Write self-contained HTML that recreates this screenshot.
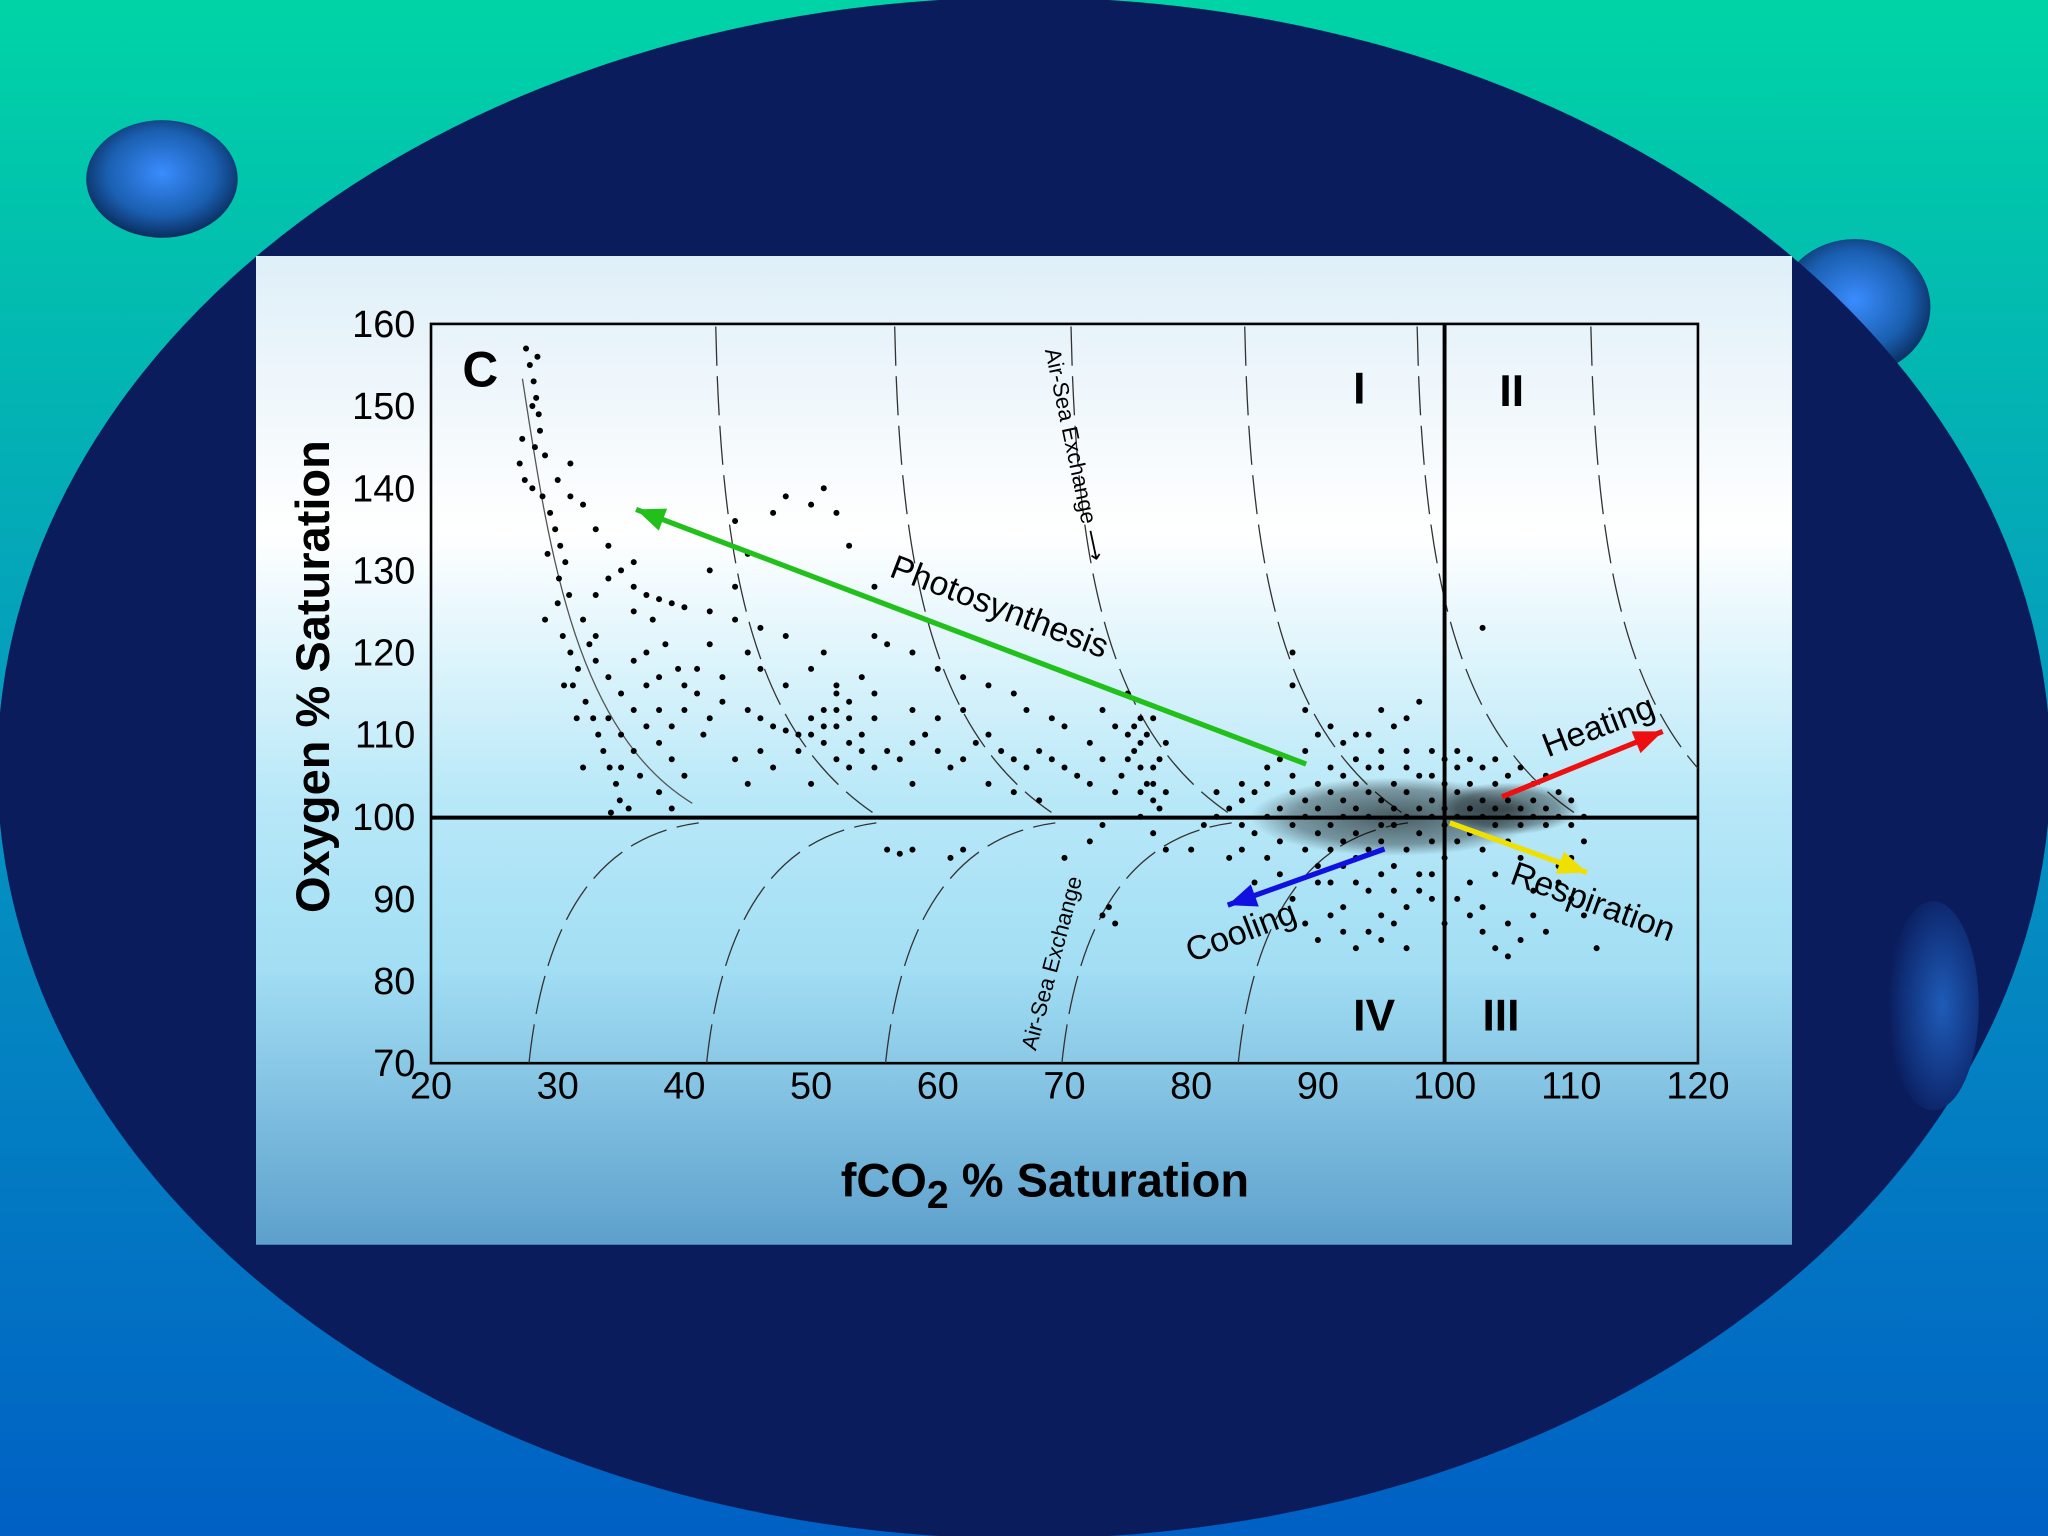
<!DOCTYPE html>
<html><head><meta charset="utf-8">
<style>
html,body{margin:0;padding:0;width:2048px;height:1536px;overflow:hidden;}
svg{display:block;font-family:"Liberation Sans",Arial,sans-serif;}
</style></head>
<body>
<svg id="chart" width="2048" height="1536" viewBox="0 0 1568 1176" xmlns="http://www.w3.org/2000/svg">
<defs>
<linearGradient id="bg" x1="0" y1="0" x2="0" y2="1">
<stop offset="0" stop-color="#00d4a6"/><stop offset="0.5" stop-color="#0596c0"/><stop offset="1" stop-color="#0060c4"/></linearGradient>
<radialGradient id="bub" cx="0.5" cy="0.45" r="0.6">
<stop offset="0" stop-color="#3a8cff"/><stop offset="0.6" stop-color="#1a5fb0"/><stop offset="1" stop-color="#06204a"/></radialGradient>
<radialGradient id="bub2" cx="0.6" cy="0.5" r="0.6">
<stop offset="0" stop-color="#1f5cb8"/><stop offset="0.7" stop-color="#10307a"/><stop offset="1" stop-color="#0a1c5c"/></radialGradient>
<linearGradient id="panel" x1="0" y1="0" x2="0" y2="1">
<stop offset="0" stop-color="#dfeff8"/><stop offset="0.28" stop-color="#ffffff"/><stop offset="0.55" stop-color="#b8e8f8"/><stop offset="0.72" stop-color="#a2def4"/><stop offset="1" stop-color="#5da0cc"/></linearGradient>
<clipPath id="plotclip"><rect x="330" y="248" width="970" height="566"/></clipPath>
<radialGradient id="blobg" cx="0.5" cy="0.5" r="0.5">
<stop offset="0" stop-color="#000" stop-opacity="0.6"/><stop offset="0.7" stop-color="#000" stop-opacity="0.35"/><stop offset="1" stop-color="#000" stop-opacity="0"/></radialGradient>
</defs>
<rect x="0" y="0" width="1568" height="1176" fill="url(#bg)"/>
<ellipse cx="124" cy="137" rx="58" ry="45" fill="url(#bub)"/>
<ellipse cx="1420" cy="235" rx="58" ry="52" fill="url(#bub)"/>
<ellipse cx="784" cy="588" rx="786" ry="590" fill="#0a1c5c"/>
<ellipse cx="1480" cy="770" rx="35" ry="80" fill="url(#bub2)"/>
<rect x="196" y="196" width="1176" height="757" fill="url(#panel)"/>
<rect x="330" y="248" width="970" height="566" fill="none" stroke="#000" stroke-width="2"/>
<g id="curves" fill="none" stroke="#333" stroke-width="1" stroke-dasharray="30,8" clip-path="url(#plotclip)"></g>
<g id="blob"></g>
<g id="pts" fill="#000"></g>
<g id="axes" font-size="29" fill="#000"></g>
<line x1="1106" y1="248" x2="1106" y2="814" stroke="#000" stroke-width="3"/>
<line x1="330" y1="626" x2="1300" y2="626" stroke="#000" stroke-width="3"/>
<g id="arrows"></g>
<text x="354" y="296" font-size="38" font-weight="bold">C</text>
<text x="1036" y="309" font-size="34" font-weight="bold">I</text>
<text x="1148" y="311" font-size="34" font-weight="bold">II</text>
<text x="1036" y="789" font-size="34" font-weight="bold">IV</text>
<text x="1135" y="789" font-size="34" font-weight="bold">III</text>
<text x="680" y="441" font-size="26" transform="rotate(21 680 441)">Photosynthesis</text>
<text x="1185" y="580" font-size="26" transform="rotate(-21 1185 580)">Heating</text>
<text x="1155" y="676" font-size="26" transform="rotate(20 1155 676)">Respiration</text>
<text x="912" y="737" font-size="26" transform="rotate(-21 912 737)">Cooling</text>
<text x="800" y="268" font-size="17" transform="rotate(78 800 268)">Air-Sea Exchange ⟶</text>
<text x="793" y="805" font-size="17" transform="rotate(-75 793 805)">Air-Sea Exchange</text>
<text x="252" y="518" font-size="36" font-weight="bold" text-anchor="middle" transform="rotate(-90 252 518)">Oxygen % Saturation</text>
<text x="800" y="916" font-size="36" font-weight="bold" text-anchor="middle">fCO<tspan font-size="30" dy="9">2</tspan><tspan dy="-9"> % Saturation</tspan></text>
</svg>
<script>
const xTicks=[20,30,40,50,60,70,80,90,100,110,120];
const yTicks=[70,80,90,100,110,120,130,140,150,160];
const leftStreak=[[27.5,157],[27.8,155],[28.1,153],[28.3,151],[28.5,149],[28.6,147],[28.2,145],[27,143],[27.4,141],[28,140],[28.8,139],[29.4,137],[29.8,135],[30.2,133],[30.6,131],[30.1,129],[30.9,127],[29,124],[30.4,122],[31,120],[31.6,118],[31.2,116],[32.2,114],[32.8,112],[33.2,110],[33.6,108],[34.1,106],[34.6,104],[34.9,102],[34.2,100.5],[35.6,101],[32.5,121],[33,119],[34,117],[35,115],[36,113],[37,111],[38,109],[39,107],[40,105],[36,125],[37,127],[38,126.5],[39,126],[40,125.5],[42,125],[44,124],[46,123],[48,122],[35,130],[36,128],[37.5,124],[38.5,121],[39.5,118],[41,115],[40,113],[42,112],[43,114],[41.5,110],[38,103],[39,101],[36.5,105],[31,143],[32,138],[33,135],[34,133],[36,131],[37,120],[38,117],[35,110],[36,108],[42,130],[44,128],[45,120],[46,118],[43,117],[33,127],[34,129],[31.5,112],[30.5,116],[32,106],[29,144],[30,141],[31,139],[32,124],[33,122],[34,112],[35,106],[36,119],[37,116],[38,113],[39,111],[40,116],[41,118],[42,121],[28,150],[28.4,156],[27.2,146],[29.2,132],[30,126]];
const midBand=[[45,113],[46,112],[47,111],[48,110.5],[49,110],[50,112],[51,113],[52,111],[53,109],[54,110],[55,112],[56,108],[57,107],[58,109],[59,110],[60,108],[61,106],[62,107],[63,109],[64,110],[65,108],[66,107],[67,106],[68,108],[69,107],[70,106],[71,105],[72,104],[73,107],[74,103],[75,110],[75.5,108],[76,106],[76.5,104],[77,102],[77.5,107],[76,112],[75,115],[76,100],[77,98],[78,96],[73,99],[72,97],[70,95],[56,96],[57,95.5],[58,96],[61,95],[62,96],[50,118],[51,120],[52,116],[53,114],[54,117],[55,115],[48,116],[47,106],[46,108],[45,104],[44,107],[50,104],[52,107],[53,106],[58,113],[60,112],[62,113],[64,104],[66,103],[68,102],[58,104],[50,138],[51,140],[52,137],[53,133],[55,128],[55,122],[56,121],[58,120],[60,118],[62,117],[64,116],[66,115],[67,113],[69,112],[70,111],[72,109],[73,113],[74,111],[48,139],[44,136],[45,132],[47,137],[77,112],[78,109],[76.5,110],[77,104],[78,103],[74.5,105],[73,88],[74,87],[73.5,89],[51,111],[52,113],[53,112],[50,110],[49,108],[54,108],[55,106],[51,109],[52,115],[76,109],[75.5,111],[77,106],[76,103],[77.5,101],[75,107]];
const mainCluster=[[82,100],[83,101],[84,99],[84,102],[85,103],[85,98],[86,100],[86,104],[87,101],[87,97],[88,103],[88,99],[88,105],[89,100],[89,96],[89,102],[90,104],[90,98],[90,101],[90,94],[91,99],[91,103],[91,106],[91,92],[92,100],[92,97],[92,102],[92,89],[93,101],[93,104],[93,98],[93,95],[94,100],[94,103],[94,106],[94,91],[95,99],[95,102],[95,97],[95,88],[96,101],[96,104],[96,99],[96,94],[97,100],[97,103],[97,96],[97,108],[98,101],[98,98],[98,105],[98,93],[99,100],[99,102],[99,97],[99,90],[100,101],[100,104],[100,99],[100,95],[101,100],[101,103],[101,97],[101,106],[102,101],[102,98],[102,104],[102,92],[103,100],[103,102],[103,96],[103,89],[104,101],[104,99],[104,104],[104,93],[105,100],[105,102],[105,97],[105,87],[106,101],[106,99],[106,95],[107,100],[107,102],[107,91],[108,99],[108,101],[108,86],[109,100],[109,94],[110,99],[110,90],[111,97],[112,84],[111,88],[89,87],[90,85],[91,88],[92,86],[93,84],[94,86],[95,85],[96,87],[97,84],[104,84],[105,83],[106,85],[103,86],[107,88],[109,92],[110,95],[86,95],[85,92],[84,96],[83,95],[87,93],[88,90],[89,108],[90,110],[91,111],[92,109],[93,107],[94,110],[95,108],[96,111],[97,112],[98,114],[99,108],[95,113],[88,116],[89,113],[88,120],[103,123],[100,107],[101,108],[102,107],[103,106],[104,107],[105,105],[106,106],[107,104],[108,105],[109,103],[110,102],[111,100],[84,104],[86,106],[87,107],[82,103],[81,99],[80,96],[90,92],[91,96],[92,94],[93,92],[94,96],[95,93],[96,91],[97,89],[98,91],[99,93],[100,87],[101,90],[102,88],[92,105],[93,110],[95,106],[97,106],[99,105]];
const ns='http://www.w3.org/2000/svg';
const X0=330,X1=1300,Y0=814,Y1=248;
function sx(v){return X0+(v-20)/100*(X1-X0);}
function sy(v){return Y0-(v-70)/90*(Y0-Y1);}
function mk(tag,attrs,parent){const e=document.createElementNS(ns,tag);for(const k in attrs)e.setAttribute(k,attrs[k]);parent.appendChild(e);return e;}
const axes=document.getElementById('axes');
xTicks.forEach(t=>{const e=mk('text',{x:sx(t),y:841,'text-anchor':'middle'},axes);e.textContent=t;

});
yTicks.forEach(t=>{const e=mk('text',{x:318,y:sy(t)+10,'text-anchor':'end'},axes);e.textContent=t;

});
const cg=document.getElementById('curves');
[548,685,820,953,1085,1218].forEach(t=>{const p=mk('path',{d:`M${t},250 C${t+4},440 ${t+30},560 ${t+120},622`},cg);

});
[405,541,678,813,948].forEach(b=>{const p=mk('path',{d:`M${b},814 C${b+12},700 ${b+55},640 ${b+130},630`},cg);

});
const solid=mk('path',{d:'M400,290 C420,420 440,560 530,615',stroke:'#555','stroke-dasharray':'none'},cg);


const bl=document.getElementById('blob');
const be=mk('ellipse',{cx:sx(96),cy:sy(100),rx:110,ry:30,fill:'url(#blobg)'},bl);


const be2=mk('ellipse',{cx:sx(105),cy:sy(101),rx:55,ry:20,fill:'url(#blobg)'},bl);


const pg=document.getElementById('pts');
[leftStreak,midBand,mainCluster].forEach(arr=>arr.forEach(([x,y])=>{const c=mk('circle',{cx:sx(x),cy:sy(y),r:2.3},pg);

}));
const ag=document.getElementById('arrows');
function arrow(x1,y1,x2,y2,col,name){const g=mk('g',{},ag);


mk('line',{x1,y1,x2,y2,stroke:col,'stroke-width':4},g);
const a=Math.atan2(y2-y1,x2-x1),L=22,W=9;
const bx=x2-L*Math.cos(a),by=y2-L*Math.sin(a);
mk('polygon',{points:`${x2},${y2} ${bx+W*Math.sin(a)},${by-W*Math.cos(a)} ${bx-W*Math.sin(a)},${by+W*Math.cos(a)}`,fill:col},g);}
arrow(1000,585,487,390,'#22c01a','photosynthesis-arrow');
arrow(1150,610,1273,560,'#ee1010','heating-arrow');
arrow(1110,630,1215,668,'#f0e000','respiration-arrow');
arrow(1060,650,940,693,'#1010e0','cooling-arrow');
</script>
</body></html>
